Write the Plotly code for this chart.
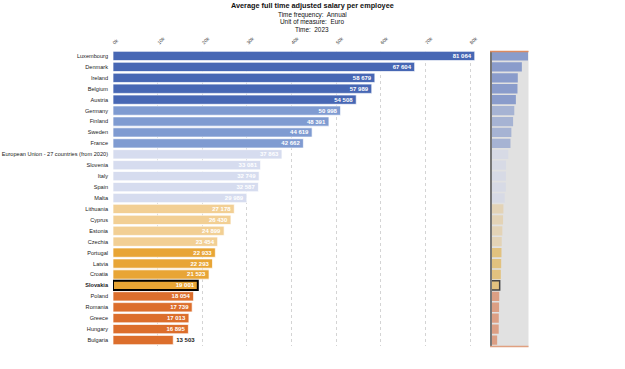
import plotly.graph_objects as go

countries = ["Luxembourg", "Denmark", "Ireland", "Belgium", "Austria", "Germany", "Finland",
             "Sweden", "France", "European Union - 27 countries (from 2020)", "Slovenia", "Italy",
             "Spain", "Malta", "Lithuania", "Cyprus", "Estonia", "Czechia", "Portugal", "Latvia",
             "Croatia", "Slovakia", "Poland", "Romania", "Greece", "Hungary", "Bulgaria"]
salaries = [81064, 67604, 58679, 57989, 54508, 50998, 48391, 44619, 42662, 37863, 33081, 32749,
            32587, 29989, 27178, 26430, 24899, 23454, 22933, 22293, 21523, 19001, 18054, 17739,
            17013, 16895, 13503]
groups = [0]*5 + [1]*4 + [2]*5 + [3]*4 + [4]*4 + [5]*5
tick_vals = [0, 10000, 20000, 30000, 40000, 50000, 60000, 70000, 80000]
tick_labels = ["0k", "10k", "20k", "30k", "40k", "50k", "60k", "70k", "80k"]
highlight = "Slovakia"

palette = ["#4767b4", "#7f9bd1", "#d6dcef", "#f2cf94", "#e8a535", "#dc6e2c"]
mini_palette = ["#8a9ccb", "#a6b3d3", "#d7dae5", "#e3d3b6", "#e2c27f", "#dc9f84"]

W, H = 625, 369
colors = [palette[g] for g in groups]
mini_colors = [mini_palette[g] for g in groups]
texts = [f"<b>{v:,}</b>".replace(",", " ") for v in salaries]
positions = ["outside" if c == "Bulgaria" else "inside" for c in countries]
text_colors = ["#222222" if c == "Bulgaria" else "white" for c in countries]
line_colors = ["black" if c == highlight else "rgba(255,255,255,0.7)" for c in countries]
line_widths = [2 if c == highlight else 1 for c in countries]
ticktext = [f"<b>{c}</b>" if c == highlight else c for c in countries]

fig = go.Figure()
fig.add_trace(go.Bar(
    y=countries, x=salaries, orientation="h",
    marker=dict(color=colors, line=dict(color=line_colors, width=line_widths)),
    text=texts, textposition=positions, insidetextanchor="end",
    textfont=dict(size=6, color=text_colors, family="Liberation Sans"),
    constraintext="none", cliponaxis=False,
    xaxis="x", yaxis="y", hoverinfo="x+y", showlegend=False,
))
fig.add_trace(go.Bar(
    y=countries, x=salaries, orientation="h",
    marker=dict(color=mini_colors,
                line=dict(color=["#444444" if c == highlight else "rgba(0,0,0,0)" for c in countries],
                          width=[1.5 if c == highlight else 0 for c in countries])),
    xaxis="x2", yaxis="y2", hoverinfo="x+y", showlegend=False,
))

px = lambda p: p / W
py = lambda p: 1 - p / H

xr = 82000
x0, x1 = 113, 113 + xr * 357 / 80000
ytop, ybot = 50.5, 345.5

fig.update_layout(
    width=W, height=H, margin=dict(l=0, r=0, t=0, b=0),
    paper_bgcolor="white", plot_bgcolor="rgba(0,0,0,0)",
    font=dict(family="Liberation Sans, Arial", size=6, color="#222222"),
    bargap=0.15,
    xaxis=dict(domain=[px(x0), px(x1)], range=[0, xr], side="top", tickvals=tick_vals,
               ticktext=tick_labels, tickangle=-45, tickfont=dict(size=5, color="#444444"),
               ticklabelstandoff=3,
               showgrid=True, gridcolor="#d4d4d4", griddash="dot", gridwidth=1,
               zeroline=False, fixedrange=True, anchor="y", automargin=False),
    yaxis=dict(domain=[py(ybot), py(ytop)], autorange="reversed", tickvals=countries,
               ticktext=ticktext, tickfont=dict(size=5.6, color="#222222"),
               ticks="", ticklabelstandoff=4, showgrid=False, anchor="x", automargin=False),
    xaxis2=dict(domain=[px(491), px(528)], range=[0, 81064], visible=False, anchor="y2",
                automargin=False),
    yaxis2=dict(domain=[py(ybot), py(ytop)], autorange="reversed", visible=False,
                anchor="x2", automargin=False),
    shapes=[
        dict(type="rect", xref="paper", yref="paper", x0=px(490), x1=px(528.5),
             y0=py(347), y1=py(51), fillcolor="#e1e1e1", line=dict(width=0), layer="below"),
        dict(type="line", xref="paper", yref="paper", x0=px(491), x1=px(491),
             y0=py(347), y1=py(51), line=dict(color="#777777", width=2)),
        dict(type="line", xref="paper", yref="paper", x0=px(490), x1=px(528.5),
             y0=py(51.5), y1=py(51.5), line=dict(color="#dc8a60", width=1.5)),
        dict(type="line", xref="paper", yref="paper", x0=px(490), x1=px(528.5),
             y0=py(346.5), y1=py(346.5), line=dict(color="#e0a080", width=1.5)),
    ],
    annotations=[
        dict(text="<b>Average full time adjusted salary per employee</b>", x=px(312), y=py(6),
             xref="paper", yref="paper", showarrow=False, font=dict(size=7.3, color="#111111"),
             xanchor="center", yanchor="middle"),
        dict(text="Time frequency:  Annual", x=px(312), y=py(14.5), xref="paper", yref="paper",
             showarrow=False, font=dict(size=6.4, color="#111111"), xanchor="center", yanchor="middle"),
        dict(text="Unit of measure:  Euro", x=px(312), y=py(22), xref="paper", yref="paper",
             showarrow=False, font=dict(size=6.4, color="#111111"), xanchor="center", yanchor="middle"),
        dict(text="Time:  2023", x=px(312), y=py(29.5), xref="paper", yref="paper",
             showarrow=False, font=dict(size=6.4, color="#111111"), xanchor="center", yanchor="middle"),
    ],
)

fig.write_html("out.html", config={"displayModeBar": False},
               post_script="document.body.style.margin='0px';")
